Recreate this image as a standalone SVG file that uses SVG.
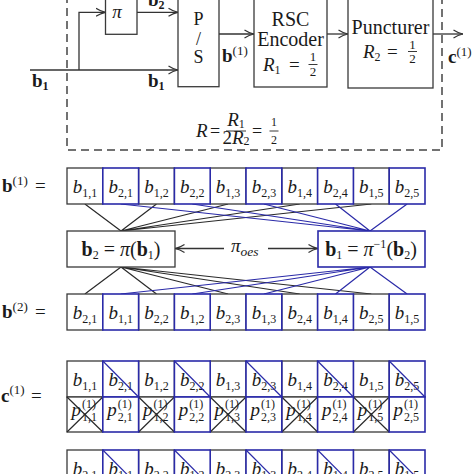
<svg xmlns="http://www.w3.org/2000/svg" width="474" height="474" viewBox="0 0 474 474">
<style>
text{font-family:"Liberation Serif","Times New Roman",serif;fill:#1a1a1a}
.i{font-style:italic;font-size:19px}
.s{font-size:12px;font-style:normal}
.bf{font-weight:bold;font-size:19px}
.rm{font-size:20px}
.k{fill:#fff;stroke:#3a3a3a;stroke-width:1.3}
.u{fill:#fff;stroke:#2a2aa8;stroke-width:1.6}
.lk{stroke:#2a2a2a;stroke-width:1.2;fill:none}
.lu{stroke:#2a2aa8;stroke-width:1.2;fill:none}
.ar{stroke:#333;stroke-width:1.3;fill:none;marker-end:url(#ah)}
.dash{stroke:#444;stroke-width:1.5;fill:none;stroke-dasharray:8 5}
.fb{stroke:#222;stroke-width:0.9}
</style>
<defs>
<marker id="ah" viewBox="0 0 10 10" refX="10" refY="5" markerWidth="10" markerHeight="10" markerUnits="userSpaceOnUse" orient="auto">
<path d="M0.5,1 Q5,4 10,5 Q5,6 0.5,9" fill="none" stroke="#333" stroke-width="1.2"/>
</marker>
</defs>
<rect width="474" height="474" fill="#fff"/>

<!-- encoder block -->
<path class="dash" d="M67,-5 V150 H442 V-5"/>
<g id="connectors">
<path class="ar" d="M30,70 H178"/>
<path class="ar" d="M79,70 V12.3 H105.5"/>
<path class="ar" d="M137,12.3 H178"/>
<path class="ar" d="M219,34 H254"/>
<path class="ar" d="M327,34 H348"/>
<path class="ar" d="M433,34 H463"/>
<path class="ar" d="M224,248.5 H175"/>
<path class="ar" d="M268,248.5 H318"/>
<g id="mid-lines">
<path class="lk" d="M84.9,204 L121,231 M156.5,204 L121,231 M228.1,204 L121,231 M299.7,204 L121,231 M371.3,204 L121,231"/>
<path class="lu" d="M120.7,204 L370,231 M192.3,204 L370,231 M263.9,204 L370,231 M335.5,204 L370,231 M407.1,204 L370,231"/>
<path class="lk" d="M121,267 L84.9,294 M121,267 L156.5,294 M121,267 L228.1,294 M121,267 L299.7,294 M121,267 L371.3,294"/>
<path class="lu" d="M370,267 L120.7,294 M370,267 L192.3,294 M370,267 L263.9,294 M370,267 L335.5,294 M370,267 L407.1,294"/>
</g>
</g>

<g id="pi"><rect class="k" x="105.5" y="-10" width="31.5" height="44.3"/><text class="i" x="117" y="18" text-anchor="middle" font-size="17">π</text></g>
<g id="ps"><rect class="k" x="178" y="-10" width="41" height="96.7"/>
<text x="198.5" y="25" text-anchor="middle" font-size="18">P</text>
<text x="198.5" y="45" text-anchor="middle" font-size="18">/</text>
<text x="198.5" y="63" text-anchor="middle" font-size="18">S</text></g>
<g id="rsc"><rect class="k" x="254" y="-10" width="73" height="97"/>
<text class="rm" x="290.5" y="26" text-anchor="middle">RSC</text>
<text class="rm" x="290.5" y="46" text-anchor="middle">Encoder</text>
<text class="i" x="263" y="71">R<tspan class="s" dy="3">1</tspan></text>
<text x="289" y="71" font-size="19">=</text>
<text x="313" y="61" text-anchor="middle" font-size="13">1</text>
<line class="fb" x1="308.5" y1="64.5" x2="317.5" y2="64.5"/>
<text x="313" y="76" text-anchor="middle" font-size="13">2</text></g>
<g id="punct"><rect class="k" x="348" y="-10" width="85" height="98"/>
<text class="rm" x="390.5" y="34" text-anchor="middle">Puncturer</text>
<text class="i" x="363" y="58">R<tspan class="s" dy="3">2</tspan></text>
<text x="387" y="58" font-size="19">=</text>
<text x="412.5" y="48.5" text-anchor="middle" font-size="13">1</text>
<line class="fb" x1="408" y1="51.5" x2="417" y2="51.5"/>
<text x="412.5" y="63" text-anchor="middle" font-size="13">2</text></g>

<g id="labels-top">
<text class="bf" x="32" y="87">b<tspan class="s" dy="3">1</tspan></text>
<text class="bf" x="148" y="87">b<tspan class="s" dy="3">1</tspan></text>
<text class="bf" x="148" y="6">b<tspan class="s" dy="3">2</tspan></text>
<text class="bf" x="222" y="62">b<tspan font-size="13" font-weight="normal" dy="-7">(1)</tspan></text>
<text class="bf" x="448" y="63">c<tspan font-size="13" font-weight="normal" dy="-7">(1)</tspan></text>
</g>
<g id="rate">
<text class="i" x="196" y="137" font-size="19">R</text>
<text x="210" y="137" font-size="18">=</text>
<text class="i" x="236" y="126" text-anchor="middle" font-size="12">R<tspan class="s" font-size="8.5" dy="1.5">1</tspan></text>
<line class="fb" x1="226" y1="131" x2="246" y2="131"/>
<text class="i" x="236" y="143.5" text-anchor="middle" font-size="12"><tspan font-style="normal">2</tspan>R<tspan class="s" font-size="8.5" dy="1.5">2</tspan></text>
<text x="252" y="137" font-size="18">=</text>
<text x="274" y="126" text-anchor="middle" font-size="12">1</text>
<line class="fb" x1="269.5" y1="131" x2="278.5" y2="131"/>
<text x="274" y="143.5" text-anchor="middle" font-size="12">2</text>
</g>

<!-- row labels -->
<g id="row-labels">
<text class="bf" x="2" y="192">b<tspan font-size="13" font-weight="normal" dy="-7">(1)</tspan></text><text x="35" y="192" font-size="19">=</text>
<text class="bf" x="2" y="318">b<tspan font-size="13" font-weight="normal" dy="-7">(2)</tspan></text><text x="35" y="318" font-size="19">=</text>
<text class="bf" x="1" y="402">c<tspan font-size="13" font-weight="normal" dy="-8">(1)</tspan></text><text x="31" y="402" font-size="19">=</text>
</g>

<!-- b(1) row -->
<g id="b1row">
<g id="b1-0"><rect class="k" x="67" y="168" width="35.8" height="36"/><text class="i" x="84.9" y="193" text-anchor="middle">b<tspan class="s" dy="4">1,1</tspan></text></g>
<g id="b1-2"><rect class="k" x="138.6" y="168" width="35.8" height="36"/><text class="i" x="156.5" y="193" text-anchor="middle">b<tspan class="s" dy="4">1,2</tspan></text></g>
<g id="b1-4"><rect class="k" x="210.2" y="168" width="35.8" height="36"/><text class="i" x="228.1" y="193" text-anchor="middle">b<tspan class="s" dy="4">1,3</tspan></text></g>
<g id="b1-6"><rect class="k" x="281.8" y="168" width="35.8" height="36"/><text class="i" x="299.7" y="193" text-anchor="middle">b<tspan class="s" dy="4">1,4</tspan></text></g>
<g id="b1-8"><rect class="k" x="353.4" y="168" width="35.8" height="36"/><text class="i" x="371.3" y="193" text-anchor="middle">b<tspan class="s" dy="4">1,5</tspan></text></g>
<g id="b1-1"><rect class="u" x="102.8" y="168" width="35.8" height="36"/><text class="i" x="120.7" y="193" text-anchor="middle">b<tspan class="s" dy="4">2,1</tspan></text></g>
<g id="b1-3"><rect class="u" x="174.4" y="168" width="35.8" height="36"/><text class="i" x="192.3" y="193" text-anchor="middle">b<tspan class="s" dy="4">2,2</tspan></text></g>
<g id="b1-5"><rect class="u" x="246" y="168" width="35.8" height="36"/><text class="i" x="263.9" y="193" text-anchor="middle">b<tspan class="s" dy="4">2,3</tspan></text></g>
<g id="b1-7"><rect class="u" x="317.6" y="168" width="35.8" height="36"/><text class="i" x="335.5" y="193" text-anchor="middle">b<tspan class="s" dy="4">2,4</tspan></text></g>
<g id="b1-9"><rect class="u" x="389.2" y="168" width="35.8" height="36"/><text class="i" x="407.1" y="193" text-anchor="middle">b<tspan class="s" dy="4">2,5</tspan></text></g>
</g>

<!-- interleaver boxes -->
<g id="box-b2"><rect class="k" x="67" y="231" width="108" height="36"/>
<text x="121" y="256" text-anchor="middle" font-size="20"><tspan font-weight="bold">b</tspan><tspan class="s" font-size="13" dy="3">2</tspan><tspan dy="-3"> = </tspan><tspan font-style="italic">π</tspan>(<tspan font-weight="bold">b</tspan><tspan class="s" font-size="13" dy="3">1</tspan><tspan dy="-3">)</tspan></text></g>
<g id="box-b1"><rect class="u" x="318" y="231" width="107" height="36"/>
<text x="371" y="256" text-anchor="middle" font-size="20"><tspan font-weight="bold">b</tspan><tspan class="s" font-size="13" dy="3">1</tspan><tspan dy="-3"> = </tspan><tspan font-style="italic">π</tspan><tspan class="s" font-size="13" dy="-8">−1</tspan><tspan dy="8">(</tspan><tspan font-weight="bold">b</tspan><tspan class="s" font-size="13" dy="3">2</tspan><tspan dy="-3">)</tspan></text></g>
<text class="i" x="231" y="252" font-size="20">π<tspan font-style="italic" font-size="13.5" dy="4">oes</tspan></text>

<!-- b(2) row -->
<g id="b2row">
<g id="b2-0"><rect class="k" x="67" y="294" width="35.8" height="36"/><text class="i" x="84.9" y="319" text-anchor="middle">b<tspan class="s" dy="4">2,1</tspan></text></g>
<g id="b2-2"><rect class="k" x="138.6" y="294" width="35.8" height="36"/><text class="i" x="156.5" y="319" text-anchor="middle">b<tspan class="s" dy="4">2,2</tspan></text></g>
<g id="b2-4"><rect class="k" x="210.2" y="294" width="35.8" height="36"/><text class="i" x="228.1" y="319" text-anchor="middle">b<tspan class="s" dy="4">2,3</tspan></text></g>
<g id="b2-6"><rect class="k" x="281.8" y="294" width="35.8" height="36"/><text class="i" x="299.7" y="319" text-anchor="middle">b<tspan class="s" dy="4">2,4</tspan></text></g>
<g id="b2-8"><rect class="k" x="353.4" y="294" width="35.8" height="36"/><text class="i" x="371.3" y="319" text-anchor="middle">b<tspan class="s" dy="4">2,5</tspan></text></g>
<g id="b2-1"><rect class="u" x="102.8" y="294" width="35.8" height="36"/><text class="i" x="120.7" y="319" text-anchor="middle">b<tspan class="s" dy="4">1,1</tspan></text></g>
<g id="b2-3"><rect class="u" x="174.4" y="294" width="35.8" height="36"/><text class="i" x="192.3" y="319" text-anchor="middle">b<tspan class="s" dy="4">1,2</tspan></text></g>
<g id="b2-5"><rect class="u" x="246" y="294" width="35.8" height="36"/><text class="i" x="263.9" y="319" text-anchor="middle">b<tspan class="s" dy="4">1,3</tspan></text></g>
<g id="b2-7"><rect class="u" x="317.6" y="294" width="35.8" height="36"/><text class="i" x="335.5" y="319" text-anchor="middle">b<tspan class="s" dy="4">1,4</tspan></text></g>
<g id="b2-9"><rect class="u" x="389.2" y="294" width="35.8" height="36"/><text class="i" x="407.1" y="319" text-anchor="middle">b<tspan class="s" dy="4">1,5</tspan></text></g>
</g>

<!-- c(1) rows -->
<g id="c1row">
<g id="c1-0"><rect class="k" x="67" y="361" width="35.8" height="36"/><text class="i" x="84.9" y="386" text-anchor="middle">b<tspan class="s" dy="4">1,1</tspan></text></g>
<g id="c1-2"><rect class="k" x="138.6" y="361" width="35.8" height="36"/><text class="i" x="156.5" y="386" text-anchor="middle">b<tspan class="s" dy="4">1,2</tspan></text></g>
<g id="c1-4"><rect class="k" x="210.2" y="361" width="35.8" height="36"/><text class="i" x="228.1" y="386" text-anchor="middle">b<tspan class="s" dy="4">1,3</tspan></text></g>
<g id="c1-6"><rect class="k" x="281.8" y="361" width="35.8" height="36"/><text class="i" x="299.7" y="386" text-anchor="middle">b<tspan class="s" dy="4">1,4</tspan></text></g>
<g id="c1-8"><rect class="k" x="353.4" y="361" width="35.8" height="36"/><text class="i" x="371.3" y="386" text-anchor="middle">b<tspan class="s" dy="4">1,5</tspan></text></g>
<g id="p1-0"><rect class="k" x="67" y="397" width="35.8" height="35"/><text class="i" x="80.9" y="416" text-anchor="end">p</text><text class="s" x="81.9" y="408">(1)</text><text class="s" x="81.9" y="421">1,1</text><path class="lk" d="M67,397 L102.8,432 M102.8,397 L67,432"/></g>
<g id="p1-2"><rect class="k" x="138.6" y="397" width="35.8" height="35"/><text class="i" x="152.5" y="416" text-anchor="end">p</text><text class="s" x="153.5" y="408">(1)</text><text class="s" x="153.5" y="421">1,2</text><path class="lk" d="M138.6,397 L174.4,432 M174.4,397 L138.6,432"/></g>
<g id="p1-4"><rect class="k" x="210.2" y="397" width="35.8" height="35"/><text class="i" x="224.1" y="416" text-anchor="end">p</text><text class="s" x="225.1" y="408">(1)</text><text class="s" x="225.1" y="421">1,3</text><path class="lk" d="M210.2,397 L246,432 M246,397 L210.2,432"/></g>
<g id="p1-6"><rect class="k" x="281.8" y="397" width="35.8" height="35"/><text class="i" x="295.7" y="416" text-anchor="end">p</text><text class="s" x="296.7" y="408">(1)</text><text class="s" x="296.7" y="421">1,4</text><path class="lk" d="M281.8,397 L317.6,432 M317.6,397 L281.8,432"/></g>
<g id="p1-8"><rect class="k" x="353.4" y="397" width="35.8" height="35"/><text class="i" x="367.3" y="416" text-anchor="end">p</text><text class="s" x="368.3" y="408">(1)</text><text class="s" x="368.3" y="421">1,5</text><path class="lk" d="M353.4,397 L389.2,432 M389.2,397 L353.4,432"/></g>
<g id="c1-1"><rect class="u" x="102.8" y="361" width="35.8" height="36"/><text class="i" x="120.7" y="386" text-anchor="middle">b<tspan class="s" dy="4">2,1</tspan></text><path class="lu" d="M102.8,361 L138.6,397"/></g>
<g id="c1-3"><rect class="u" x="174.4" y="361" width="35.8" height="36"/><text class="i" x="192.3" y="386" text-anchor="middle">b<tspan class="s" dy="4">2,2</tspan></text><path class="lu" d="M174.4,361 L210.2,397"/></g>
<g id="c1-5"><rect class="u" x="246" y="361" width="35.8" height="36"/><text class="i" x="263.9" y="386" text-anchor="middle">b<tspan class="s" dy="4">2,3</tspan></text><path class="lu" d="M246,361 L281.8,397"/></g>
<g id="c1-7"><rect class="u" x="317.6" y="361" width="35.8" height="36"/><text class="i" x="335.5" y="386" text-anchor="middle">b<tspan class="s" dy="4">2,4</tspan></text><path class="lu" d="M317.6,361 L353.4,397"/></g>
<g id="c1-9"><rect class="u" x="389.2" y="361" width="35.8" height="36"/><text class="i" x="407.1" y="386" text-anchor="middle">b<tspan class="s" dy="4">2,5</tspan></text><path class="lu" d="M389.2,361 L425,397"/></g>
<g id="p2-1"><rect class="u" x="102.8" y="397" width="35.8" height="35"/><text class="i" x="116.7" y="416" text-anchor="end">p</text><text class="s" x="117.7" y="408">(1)</text><text class="s" x="117.7" y="421">2,1</text></g>
<g id="p2-3"><rect class="u" x="174.4" y="397" width="35.8" height="35"/><text class="i" x="188.3" y="416" text-anchor="end">p</text><text class="s" x="189.3" y="408">(1)</text><text class="s" x="189.3" y="421">2,2</text></g>
<g id="p2-5"><rect class="u" x="246" y="397" width="35.8" height="35"/><text class="i" x="259.9" y="416" text-anchor="end">p</text><text class="s" x="260.9" y="408">(1)</text><text class="s" x="260.9" y="421">2,3</text></g>
<g id="p2-7"><rect class="u" x="317.6" y="397" width="35.8" height="35"/><text class="i" x="331.5" y="416" text-anchor="end">p</text><text class="s" x="332.5" y="408">(1)</text><text class="s" x="332.5" y="421">2,4</text></g>
<g id="p2-9"><rect class="u" x="389.2" y="397" width="35.8" height="35"/><text class="i" x="403.1" y="416" text-anchor="end">p</text><text class="s" x="404.1" y="408">(1)</text><text class="s" x="404.1" y="421">2,5</text></g>
</g>

<!-- bottom row -->
<g id="c2row">
<g id="c2-0"><rect class="k" x="67" y="450" width="35.8" height="36"/><text class="i" x="84.9" y="475" text-anchor="middle">b<tspan class="s" dy="4">2,1</tspan></text></g>
<g id="c2-2"><rect class="k" x="138.6" y="450" width="35.8" height="36"/><text class="i" x="156.5" y="475" text-anchor="middle">b<tspan class="s" dy="4">2,2</tspan></text></g>
<g id="c2-4"><rect class="k" x="210.2" y="450" width="35.8" height="36"/><text class="i" x="228.1" y="475" text-anchor="middle">b<tspan class="s" dy="4">2,3</tspan></text></g>
<g id="c2-6"><rect class="k" x="281.8" y="450" width="35.8" height="36"/><text class="i" x="299.7" y="475" text-anchor="middle">b<tspan class="s" dy="4">2,4</tspan></text></g>
<g id="c2-8"><rect class="k" x="353.4" y="450" width="35.8" height="36"/><text class="i" x="371.3" y="475" text-anchor="middle">b<tspan class="s" dy="4">2,5</tspan></text></g>
<g id="c2-1"><rect class="u" x="102.8" y="450" width="35.8" height="36"/><text class="i" x="120.7" y="475" text-anchor="middle">b<tspan class="s" dy="4">1,1</tspan></text><path class="lu" d="M102.8,450 L138.6,486"/></g>
<g id="c2-3"><rect class="u" x="174.4" y="450" width="35.8" height="36"/><text class="i" x="192.3" y="475" text-anchor="middle">b<tspan class="s" dy="4">1,2</tspan></text><path class="lu" d="M174.4,450 L210.2,486"/></g>
<g id="c2-5"><rect class="u" x="246" y="450" width="35.8" height="36"/><text class="i" x="263.9" y="475" text-anchor="middle">b<tspan class="s" dy="4">1,3</tspan></text><path class="lu" d="M246,450 L281.8,486"/></g>
<g id="c2-7"><rect class="u" x="317.6" y="450" width="35.8" height="36"/><text class="i" x="335.5" y="475" text-anchor="middle">b<tspan class="s" dy="4">1,4</tspan></text><path class="lu" d="M317.6,450 L353.4,486"/></g>
<g id="c2-9"><rect class="u" x="389.2" y="450" width="35.8" height="36"/><text class="i" x="407.1" y="475" text-anchor="middle">b<tspan class="s" dy="4">1,5</tspan></text><path class="lu" d="M389.2,450 L425,486"/></g>
</g>
</svg>
